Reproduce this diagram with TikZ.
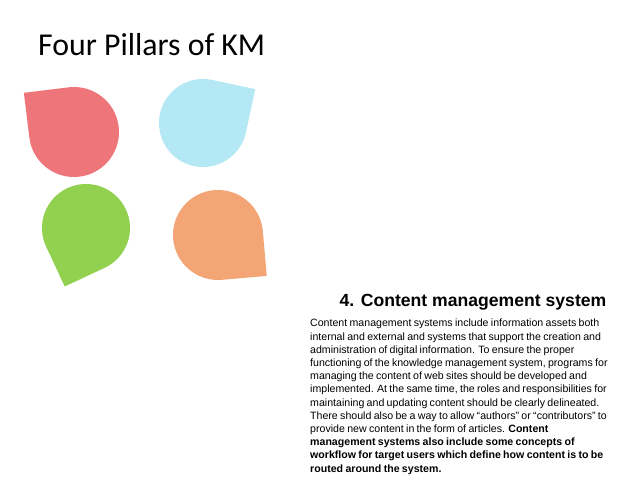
\documentclass[tikz,border=0pt]{standalone}
\usepackage{fontspec}
\usetikzlibrary{calc}
\setmainfont{Liberation Sans}
\newfontfamily\titlefont{Carlito}
\begin{document}
\begin{tikzpicture}[x=1pt,y=1pt]
\useasboundingbox (0,0) rectangle (638,-478);
\definecolor{cred}{HTML}{EE757A}
\definecolor{ccyan}{HTML}{B3E8F4}
\definecolor{cgreen}{HTML}{92D14F}
\definecolor{corange}{HTML}{F4A575}
\newcommand{\drop}[5]{% x y r angle color
  \fill[#5] ($(#1,#2)+(#4-45:#3)$) -- ($(#1,#2)+(#4:{#3*1.414})$) -- ($(#1,#2)+(#4+45:#3)$) arc[start angle=#4+45, end angle=#4+315, radius=#3] -- cycle;}
\drop{74}{-132}{45}{142}{cred}
\drop{203}{-123}{44}{33}{ccyan}
\drop{86}{-228}{44}{250}{cgreen}
\drop{218}{-235}{45}{320}{corange}
\node[anchor=west,inner sep=0] (title) at (38,-45) {\titlefont\fontsize{31.8}{36}\selectfont Four Pillars of KM};
\node[inner sep=0] (head) at (473,-302) {\fontsize{17.6}{20}\selectfont\bfseries 4. Content management system};
\node[anchor=north west,inner sep=0,align=left,font={\fontsize{10.6}{13.2}\selectfont\spaceskip=0.22em plus 0.1em}] (body) at (310,-319)
{Content management systems include information assets both\\
internal and external and systems that support the creation and\\
administration of digital information. To ensure the proper\\
functioning of the knowledge management system, programs for\\
managing the content of web sites should be developed and\\
implemented. At the same time, the roles and responsibilities for\\
maintaining and updating content should be clearly delineated.\\
There should also be a way to allow “authors” or “contributors” to\\
provide new content in the form of articles. \textbf{Content}\\
\textbf{management systems also include some concepts of}\\
\textbf{workflow for target users which define how content is to be}\\
\textbf{routed around the system.}};
\end{tikzpicture}
\end{document}
